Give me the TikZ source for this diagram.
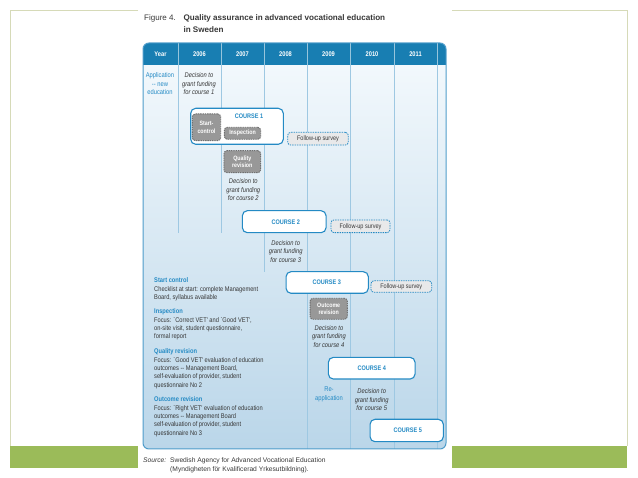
\documentclass[tikz,border=0pt]{standalone}
\usepackage{fontspec}
\setmainfont{Liberation Sans}
\newfontfamily\condfont[FakeStretch=0.84]{Liberation Sans}
\definecolor{HeaderBlue}{RGB}{24,126,178}
\definecolor{PanelLine}{RGB}{78,156,202}
\definecolor{PanelTop}{RGB}{242,248,252}
\definecolor{PanelBottom}{RGB}{186,214,233}
\definecolor{ColLine}{RGB}{158,200,226}
\definecolor{CourseBlue}{RGB}{36,138,196}
\definecolor{BoxGray}{RGB}{152,152,152}
\definecolor{BoxEdge}{RGB}{112,112,112}
\definecolor{SurveyFill}{RGB}{232,233,234}
\definecolor{TextGray}{RGB}{55,55,55}
\definecolor{FrameLine}{RGB}{214,218,184}
\definecolor{GreenBar}{RGB}{155,187,89}

\begin{document}
\begin{tikzpicture}[x=1pt, y=-1pt,
    hdr/.style={text=white, font=\condfont\bfseries\fontsize{6.8}{7}\selectfont},
    course/.style={draw=CourseBlue, line width=1.1, fill=white, rounded corners=5},
    courselbl/.style={text=CourseBlue, font=\condfont\bfseries\fontsize{6.6}{7}\selectfont},
    graybox/.style={draw=BoxEdge, line width=0.9, dash pattern=on 1.4 off 0.9, fill=BoxGray,
        rounded corners=3, text=white, align=center, inner sep=0,
        font=\condfont\bfseries\fontsize{6.3}{7.6}\selectfont},
    survey/.style={draw=CourseBlue, line width=0.8, dash pattern=on 1.4 off 1, fill=SurveyFill,
        rounded corners=3, text=TextGray, inner sep=0,
        font=\condfont\fontsize{6.6}{7}\selectfont},
    note/.style={text=TextGray, align=center, inner sep=0,
        font=\condfont\itshape\fontsize{6.9}{8.5}\selectfont},
    bluenote/.style={note, text=CourseBlue, font=\condfont\fontsize{6.9}{8.5}\selectfont},
    legend/.style={text=TextGray, align=left, anchor=north west, inner sep=0,
        font=\condfont\fontsize{6.8}{8.3}\selectfont},
    colline/.style={ColLine, line width=0.7}]
\useasboundingbox (0,0) rectangle (638,478);

%% Page frame
\draw[FrameLine, line width=0.8] (138,10.5) -- (10.5,10.5) -- (10.5,446);
\draw[FrameLine, line width=0.8] (452,10.5) -- (627,10.5) -- (627,446);
\fill[GreenBar] (10,446) rectangle (138,468);
\fill[GreenBar] (452,446) rectangle (627,468);

%% Title
\node[anchor=base west, inner sep=0, text=TextGray, font=\fontsize{8}{9}\selectfont] (fig) at (144,20.3) {Figure 4.};
\node[anchor=base west, inner sep=0, text=TextGray, align=left, font=\bfseries\fontsize{8.1}{12.4}\selectfont]
    (title) at (183.3,32.7) {Quality assurance in advanced vocational education\\in Sweden};

%% Panel and header
\begin{scope}
  \clip[rounded corners=6] (143,43) rectangle (446,449);
  \shade[top color=PanelTop, bottom color=PanelBottom] (143,65) rectangle (446,449);
  \fill[HeaderBlue] (143,43) rectangle (446,65);
\end{scope}
\foreach \x in {178,221,264,307,350,394,437}
  \draw[white!55!HeaderBlue, line width=0.6] (\x,43) -- (\x,65);
\foreach \x in {178,221}
  \draw[colline] (\x,65) -- (\x,233);
\draw[colline] (264,65) -- (264,272);
\foreach \x in {307,350,394,437}
  \draw[colline] (\x,65) -- (\x,449);
\draw[PanelLine, line width=1, rounded corners=6] (143,43) rectangle (446,449);

\node[hdr] (yYear) at (160.5,54) {Year};
\foreach \yr/\x in {2006/199.5,2007/242.5,2008/285.5,2009/328.5,2010/372,2011/415.5}
  \node[hdr] (y\yr) at (\x,54) {\yr};

%% Application and decisions
\node[bluenote] (app) at (160,84) {Application\\-- new\\education};
\node[note] (dec1) at (199,84) {Decision to\\grant funding\\for course 1};

%% Course 1
\node[course, minimum width=92.6, minimum height=36] (c1) at (237,126.3) {};
\node[courselbl] (c1lbl) at (249,116.7) {COURSE 1};
\node[graybox, minimum width=28.4, minimum height=26.7] (start) at (206.5,127.3) {Start-\\control};
\node[graybox, minimum width=36.4, minimum height=12] (insp) at (242.5,133.3) {Inspection};
\node[survey, minimum width=60.6, minimum height=12.7] (fu1) at (318,138.7) {Follow-up survey};
\node[graybox, minimum width=36.7, minimum height=22] (qrev) at (242.3,161.7) {Quality\\revision};
\node[note] (dec2) at (243.3,190) {Decision to\\grant funding\\for course 2};

%% Course 2
\node[course, minimum width=83.7, minimum height=22] (c2) at (284.2,221.7) {};
\node[courselbl] (c2lbl) at (285.7,222) {COURSE 2};
\node[survey, minimum width=59, minimum height=12.7] (fu2) at (360.5,226.3) {Follow-up survey};
\node[note] (dec3) at (285.7,251.3) {Decision to\\grant funding\\for course 3};

%% Course 3
\node[course, minimum width=82.3, minimum height=21.6] (c3) at (327.2,282.5) {};
\node[courselbl] (c3lbl) at (326.7,282.7) {COURSE 3};
\node[survey, minimum width=60.7, minimum height=11.6] (fu3) at (401.3,286.5) {Follow-up survey};
\node[graybox, minimum width=37.3, minimum height=21] (orev) at (328.7,308.8) {Outcome\\revision};
\node[note] (dec4) at (329,336.3) {Decision to\\grant funding\\for course 4};

%% Course 4
\node[course, minimum width=86.7, minimum height=21.7] (c4) at (371.7,368.2) {};
\node[courselbl] (c4lbl) at (371.7,368.3) {COURSE 4};
\node[bluenote] (reapp) at (329,394.3) {Re-\\application};
\node[note] (dec5) at (371.7,399.7) {Decision to\\grant funding\\for course 5};

%% Course 5
\node[course, minimum width=73.3, minimum height=22.4] (c5) at (406.7,430.5) {};
\node[courselbl] (c5lbl) at (407.7,430.5) {COURSE 5};

%% Legend
\node[legend] (lstart) at (154,277.8) {\textcolor{CourseBlue}{\bfseries Start control}\\
  Checklist at start: complete Management\\Board, syllabus available};
\node[legend] (linsp) at (154,308.8) {\textcolor{CourseBlue}{\bfseries Inspection}\\
  Focus: `Correct VET' and `Good VET',\\on-site visit, student questionnaire,\\formal report};
\node[legend] (lqrev) at (154,348.8) {\textcolor{CourseBlue}{\bfseries Quality revision}\\
  Focus: `Good VET' evaluation of education\\outcomes -- Management Board,\\self-evaluation of provider, student\\questionnaire No 2};
\node[legend] (lorev) at (154,396.8) {\textcolor{CourseBlue}{\bfseries Outcome revision}\\
  Focus: `Right VET' evaluation of education\\outcomes -- Management Board\\self-evaluation of provider, student\\questionnaire No 3};

%% Source
\node[anchor=base west, inner sep=0, text=TextGray, font=\itshape\fontsize{6.7}{7}\selectfont] (src) at (143,462.3) {Source:};
\node[anchor=base west, inner sep=0, text=TextGray, align=left, font=\fontsize{6.7}{8.8}\selectfont]
    (srctxt) at (170,471.1) {Swedish Agency for Advanced Vocational Education\\(Myndigheten för Kvalificerad Yrkesutbildning).};
\end{tikzpicture}
\end{document}
